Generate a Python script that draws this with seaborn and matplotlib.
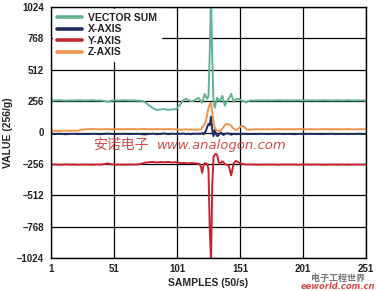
import matplotlib
matplotlib.use("Agg")
import matplotlib.pyplot as plt
import numpy as np
import pandas as pd
import seaborn as sns

# ---- data ----
samples = [1, 4, 7, 10, 13, 16, 19, 22, 25, 28, 31, 34, 37, 40, 43, 46, 49, 52, 55, 58,
           61, 64, 67, 70, 73, 76, 79, 82, 85, 88, 91, 94, 97, 100,
           102, 104, 106, 108, 110, 112, 114, 116, 118,
           119, 120, 121, 122, 123, 124, 125, 126, 127, 128, 129, 130, 131, 132, 133,
           134, 135, 136, 137, 138, 139, 140,
           142, 144, 146, 148, 150, 152, 154, 156, 158, 160, 162, 164, 166, 168, 170,
           173, 176, 179, 182, 185, 188, 191, 194, 197, 200, 203, 206, 209, 212, 215,
           218, 221, 224, 227, 230, 233, 236, 239, 242, 245, 248, 251]

vector_sum = [262, 261, 263, 262, 260, 262, 261, 263, 262, 261, 262, 263, 261, 262, 258,
              250, 260, 262, 261, 263, 262, 261, 262, 260, 258, 245, 220, 198, 183, 188,
              191, 184, 189, 190,
              210, 235, 262, 275, 265, 255, 258, 270, 282,
              270, 255, 245, 280, 315, 290, 274, 300, 650, 1150, 600, 260, 202, 245, 282,
              265, 258, 280, 299, 255, 218, 245,
              274, 315, 248, 274, 274, 262, 255, 245, 258, 262, 260, 262, 261, 262, 261,
              262, 261, 262, 263, 261, 262, 262, 261, 263, 262, 261, 262, 262, 261, 262,
              263, 262, 261, 262, 262, 261, 263, 262, 261, 262, 262, 261]

x_axis = [-12, -13, -11, -12, -14, -12, -11, -13, -12, -12, -13, -11, -12, -14, -12,
          -10, -12, -13, -12, -11, -12, -13, -12, -11, -14, -16, -12, -10, -14, -12,
          -8, -14, -10, -12,
          -10, -12, -8, -13, -11, -14, -10, -12, -9,
          -12, -10, -5, -15, 0, 15, 45, 70, 60, 130, 20, -30, 25, -15,
          -30, -22, -8, 0, -15, -20, -12, -8,
          -8, -18, -10, -14, -12, -13, -11, -12, -13, -12, -12, -13, -12, -11, -12,
          -13, -12, -12, -11, -13, -12, -12, -14, -12, -12, -13, -11, -12, -12, -13,
          -12, -12, -11, -13, -12, -12, -13, -12, -12, -11, -12, -13]

y_axis = [-262, -261, -263, -262, -260, -262, -261, -263, -262, -261, -262, -263, -261,
          -262, -258, -252, -260, -262, -261, -263, -262, -261, -262, -260, -255, -245,
          -242, -240, -244, -241, -243, -240, -244, -242,
          -245, -250, -248, -250, -252, -249, -250, -252, -255,
          -258, -280, -330, -270, -250, -252, -260, -300, -800, -1060, -420, -200, -180,
          -175, -190, -240, -260, -245, -235, -245, -258, -262,
          -268, -350, -250, -232, -245, -255, -258, -262, -260, -262, -261, -262, -263,
          -262, -261,
          -262, -261, -262, -263, -261, -262, -262, -261, -263, -262, -261, -262, -262,
          -261, -262, -263, -262, -261, -262, -262, -261, -263, -262, -261, -262, -262,
          -261]

z_axis = [14, 15, 13, 14, 15, 14, 16, 14, 22, 26, 27, 28, 27, 26, 28, 27, 26, 28, 27, 26,
          28, 27, 28, 26, 30, 28, 27, 26, 28, 27, 26, 28, 27, 26,
          25, 22, 24, 26, 23, 25, 24, 22, 25,
          24, 25, 40, 54, 70, 100, 150, 200, 230, 243, 160, 81, 40, 20,
          12, 13, 15, 20, 30, 45, 60, 68,
          68, 55, 30, 20, 35, 54, 50, 28, 22, 24, 25, 27, 26, 27, 26,
          27, 26, 27, 28, 26, 27, 27, 26, 28, 27, 26, 27, 27, 26, 27,
          28, 27, 26, 27, 27, 26, 28, 27, 26, 27, 27, 26]

series_names = ["VECTOR SUM", "X-AXIS", "Y-AXIS", "Z-AXIS"]
series_colors = ["#62b491", "#1f2c5e", "#c9232e", "#f0944e"]
x_ticks = [1, 51, 101, 151, 201, 251]
y_ticks = [-1024, -768, -512, -256, 0, 256, 512, 768, 1024]
y_tick_labels = ["\u20131024", "\u2013768", "\u2013512", "\u2013256", "0",
                 "256", "512", "768", "1024"]

df = pd.DataFrame({
    "sample": samples,
    "VECTOR SUM": vector_sum,
    "X-AXIS": x_axis,
    "Y-AXIS": y_axis,
    "Z-AXIS": z_axis,
}).melt(id_vars="sample", var_name="series", value_name="value")

# ---- style ----
sns.set_style("white")
plt.rcParams["font.family"] = ["Liberation Sans", "Noto Sans CJK SC", "DejaVu Sans"]
plt.rcParams["font.weight"] = "bold"

fig = plt.figure(figsize=(3.76, 2.91), dpi=100)
ax = fig.add_axes([51 / 376, 1 - 258 / 291, 315 / 376, 251 / 291])

sns.lineplot(data=df, x="sample", y="value", hue="series", hue_order=series_names,
             palette=dict(zip(series_names, series_colors)), estimator=None,
             sort=False, linewidth=1.4, ax=ax, legend=True)

ax.set_xlim(1, 251)
ax.set_ylim(-1024, 1024)
ax.set_xticks(x_ticks)
ax.set_xticklabels([str(t) for t in x_ticks])
ax.set_yticks(y_ticks)
ax.set_yticklabels(y_tick_labels)
ax.tick_params(axis="both", length=0, labelsize=7, colors="#222222")
ax.tick_params(axis="y", pad=5)
ax.tick_params(axis="x", pad=4)
for lab in ax.get_xticklabels() + ax.get_yticklabels():
    lab.set_fontweight("bold")

ax.grid(True, color="black", linewidth=0.9)
ax.set_axisbelow(True)
for sp in ax.spines.values():
    sp.set_color("black")
    sp.set_linewidth(1.0)

ax.set_xlabel("SAMPLES (50/s)", fontsize=7.5, fontweight="bold", color="#222222", labelpad=3)
ax.set_ylabel("VALUE (256/g)", fontsize=7.5, fontweight="bold", color="#222222", labelpad=3)

leg = ax.legend(loc="upper left", frameon=True, framealpha=1, facecolor="white",
                edgecolor="white", fancybox=False, handlelength=2.4, handletextpad=0.6,
                labelspacing=0.15, borderpad=0.35, borderaxespad=0.2,
                prop={"size": 7.5, "weight": "bold"})
for h in leg.get_lines():
    h.set_linewidth(2.6)
for t in leg.get_texts():
    t.set_color("#222222")

# watermark texts present in the reference
fig.text(93 / 376, 1 - 145 / 291, "安诺电子", fontsize=10, color="#c83a3a", alpha=0.9,
         family=["Noto Sans CJK SC", "DejaVu Sans"], ha="left", va="center",
         fontweight="normal")
fig.text(157 / 376, 1 - 145 / 291, "www.analogon.com", fontsize=9.5, style="italic",
         color="#c83a3a", alpha=0.9, family=["DejaVu Sans"], ha="left", va="center",
         fontweight="normal")
fig.text(338 / 376, 1 - 278 / 291, "电子工程世界", fontsize=6.5, color="#555555",
         family=["Noto Sans CJK SC", "DejaVu Sans"], ha="center", va="center",
         fontweight="bold", alpha=0.8)
fig.text(338 / 376, 1 - 286.5 / 291, "eeworld.com.cn", fontsize=6, style="italic",
         color="#c83a3a", family=["DejaVu Sans"], ha="center", va="center",
         fontweight="bold", alpha=0.9)

fig.savefig("out.png", dpi=100)
